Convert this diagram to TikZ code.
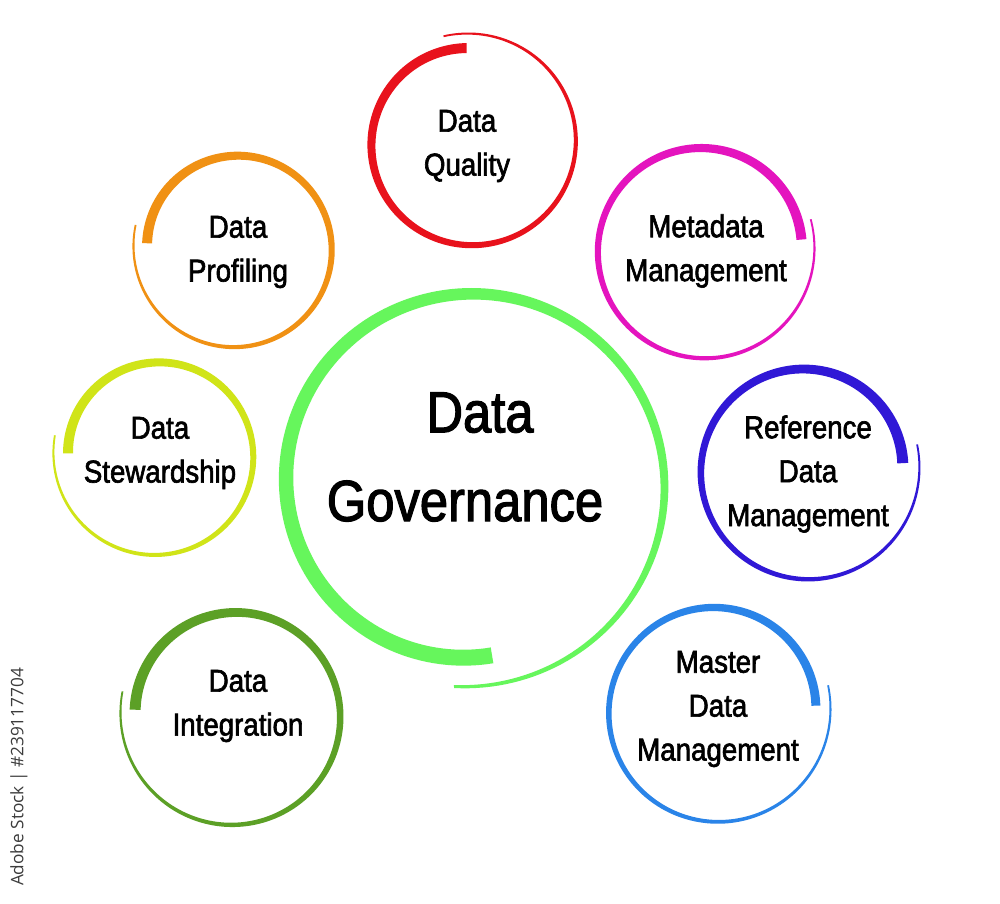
\documentclass[tikz,border=0pt]{standalone}
\usepackage{fontspec}
\setmainfont{Liberation Sans}[FakeStretch=0.875,FakeBold=2]
\newfontfamily\wmfont{Open Sans}
\definecolor{cgov}{RGB}{102,246,92}
\definecolor{cred}{RGB}{232,18,28}
\definecolor{cmag}{RGB}{228,20,190}
\definecolor{cind}{RGB}{48,24,214}
\definecolor{cblu}{RGB}{42,132,232}
\definecolor{coli}{RGB}{92,160,38}
\definecolor{cyel}{RGB}{208,228,24}
\definecolor{cora}{RGB}{240,145,20}
\def\brushpow{1}
% #1 colour, #2 cx, #3 cy, #4 r0, #5 r1, #6 start angle, #7 sweep, #8 w0, #9 w1
\newcommand{\brushring}[9]{%
  \fill[#1] plot[domain=0:1,samples=180,variable=\t] ({#2+((#4)+((#5)-(#4))*\t+0.5*((#9)+((#8)-(#9))*(1-\t^\brushpow)))*cos((#6)+(#7)*\t)},{#3+((#4)+((#5)-(#4))*\t+0.5*((#9)+((#8)-(#9))*(1-\t^\brushpow)))*sin((#6)+(#7)*\t)}) -- plot[domain=1:0,samples=180,variable=\t] ({#2+((#4)+((#5)-(#4))*\t-0.5*((#9)+((#8)-(#9))*(1-\t^\brushpow)))*cos((#6)+(#7)*\t)},{#3+((#4)+((#5)-(#4))*\t-0.5*((#9)+((#8)-(#9))*(1-\t^\brushpow)))*sin((#6)+(#7)*\t)}) -- cycle;}
\begin{document}
\begin{tikzpicture}[x=0.02cm,y=-0.02cm,
  lbl/.style={inner sep=0pt, align=center, text=black, font=\fontsize{18}{25}\selectfont},
  biglbl/.style={inner sep=0pt, align=center, text=black, font=\fontsize{33}{50.5}\selectfont}]
\useasboundingbox (0,0) rectangle (1000,903);
\fill[white] (0,0) rectangle (1000,903);
% rings
\def\brushpow{1.6}
\brushring{cgov}{468}{483}{174}{204}{82}{372}{16}{3}
\def\brushpow{1}
\brushring{cred}{470}{143}{95}{110}{268}{-372}{10}{1.8}
\brushring{cmag}{703}{250}{99}{112}{-6}{-370}{10}{1.8}
\brushring{cind}{806}{470}{97}{114}{-4}{-369}{11}{1.8}
\brushring{cblu}{716}{711}{100}{115}{-3}{-370}{9}{1.8}
\brushring{coli}{234}{715}{99}{114}{183}{369}{11}{1.8}
\brushring{cyel}{157}{455}{89}{104}{181}{370}{10}{1.8}
\brushring{cora}{236}{248}{89}{103}{183}{370}{10}{1.8}
% labels
\node[biglbl] (gov) at (465,457) {\hspace*{0.6cm}Data\\Governance};
\node[lbl] (quality) at (467,146) {Data\\Quality};
\node[lbl] (meta) at (706,251) {Metadata\\Management};
\node[lbl] (ref) at (808,474) {Reference\\Data\\Management};
\node[lbl] (master) at (718,709) {Master\\Data\\Management};
\node[lbl] (integ) at (238,706) {Data\\Integration};
\node[lbl] (stew) at (160,453) {Data\\Stewardship};
\node[lbl] (prof) at (238,252) {Data\\Profiling};
\node[rotate=90, inner sep=0pt, text={rgb,255:red,60;green,60;blue,60}, font=\wmfont\fontsize{9.8}{12}\selectfont] (wm) at (19,777) {Adobe Stock | \#239117704};
\end{tikzpicture}
\end{document}
